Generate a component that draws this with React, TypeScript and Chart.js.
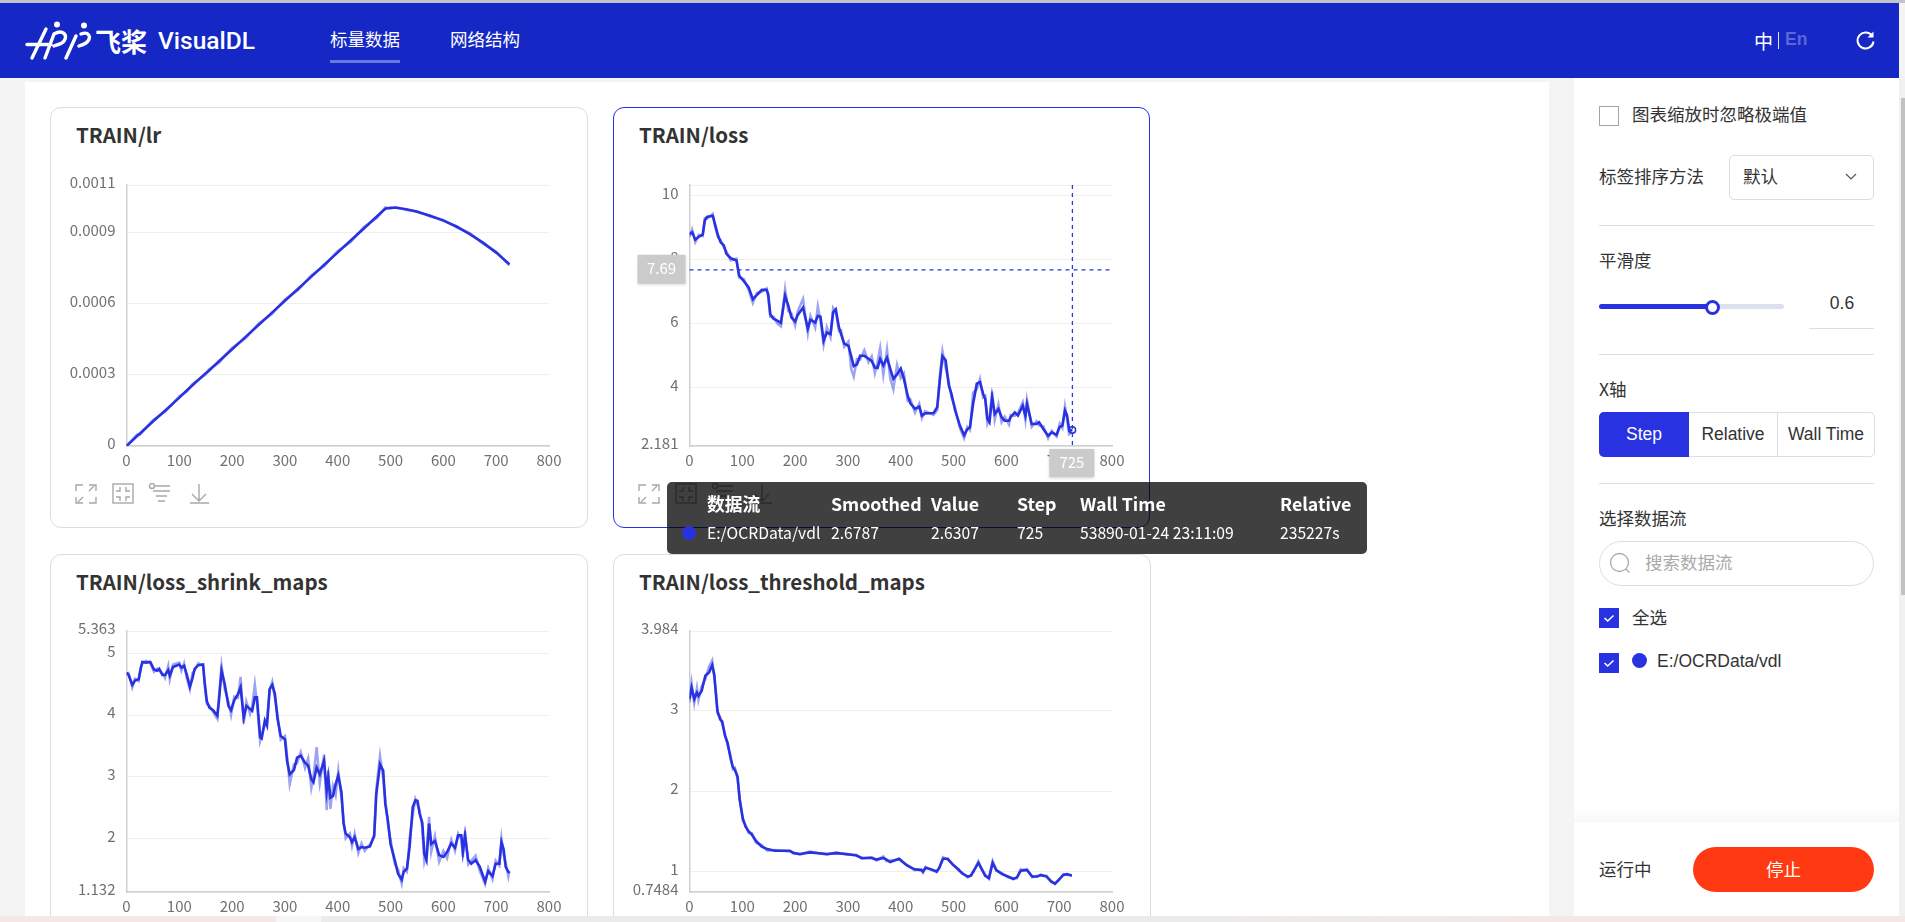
import { useEffect, useRef } from 'react'
import { Chart, registerables } from 'chart.js'
import type { CSSProperties, ReactNode } from 'react'

Chart.register(...registerables)

const CJK = '"Noto Sans CJK SC", sans-serif'
const ARIAL = '"Liberation Sans", "Noto Sans CJK SC", sans-serif'
const BLUE = '#2932e1'

const xTicks = [0, 100, 200, 300, 400, 500, 600, 700, 800]

// TRAIN/lr
const lrSteps = [
  0, 20, 25, 50, 75, 100, 115, 125, 150, 155,
  175, 200, 225, 250, 275, 300, 325, 350, 375, 400,
  425, 450, 475, 490, 500, 510, 530, 550, 575, 600,
  625, 650, 675, 700, 725,
]
const lrSmoothed = [
  0, 0.000042, 0.000052, 0.000103, 0.000153, 0.000204, 0.000236, 0.000256, 0.000307, 0.000315,
  0.000357, 0.000408, 0.000459, 0.00051, 0.000561, 0.000612, 0.000663, 0.000714, 0.000765, 0.000816,
  0.000867, 0.000918, 0.000969, 0.001, 0.001004, 0.001004, 0.000998, 0.000987, 0.00097, 0.00095,
  0.000925, 0.000893, 0.000857, 0.000815, 0.000766,
]
const lrRaw = [
  0, 0.000048, 0.000047, 0.000109, 0.000148, 0.00021, 0.00023, 0.000262, 0.000301, 0.000321,
  0.000351, 0.000414, 0.000453, 0.000516, 0.000555, 0.000618, 0.000657, 0.00072, 0.000759, 0.000822,
  0.000861, 0.000924, 0.000963, 0.001006, 0.001, 0.001007, 0.000995, 0.00099, 0.000967, 0.000953,
  0.000921, 0.000897, 0.000853, 0.000819, 0.000761,
]
const lrTicks = [0, 0.0003, 0.0006, 0.0009, 0.0011]

// TRAIN/loss
const lossSteps = [
  0, 5, 11, 18, 25, 29, 33, 44, 48, 54,
  59, 65, 70, 78, 89, 94, 103, 112, 120, 128,
  137, 146, 149, 153, 159, 167, 173, 181, 187, 193,
  200, 205, 215, 224, 229, 238, 243, 248, 254, 260,
  267, 272, 277, 283, 287, 293, 301, 306, 311, 317,
  323, 331, 339, 345, 351, 356, 361, 367, 374, 380,
  386, 393, 400, 406, 413, 418, 427, 435, 440, 446,
  462, 469, 474, 479, 485, 491, 496, 503, 512, 520,
  526, 531, 537, 544, 550, 556, 560, 564, 568, 573,
  578, 585, 591, 597, 605, 608, 616, 622, 631, 636,
  639, 648, 657, 662, 670, 679, 686, 695, 701, 706,
  711, 715, 719, 725,
]
const lossSmoothed = [
  8.8, 8.86, 8.63, 8.73, 8.79, 9.24, 9.34, 9.38, 9.13, 8.76,
  8.55, 8.45, 8.19, 8.05, 7.98, 7.51, 7.33, 7.14, 6.77, 6.91,
  7.06, 7.06, 6.93, 6.3, 6.16, 6.09, 6.03, 6.88, 6.57, 6.2,
  6.07, 6.28, 6.51, 5.85, 6.13, 6.04, 6.25, 6.22, 5.47, 5.73,
  5.68, 6.36, 6.45, 5.89, 5.68, 5.38, 5.31, 5.0, 4.68, 4.73,
  5.0, 5.0, 4.91, 4.84, 4.63, 4.62, 4.9, 4.7, 4.94, 4.6,
  4.28, 4.42, 4.6, 4.28, 3.76, 3.52, 3.34, 3.41, 3.13, 3.2,
  3.21, 3.39, 4.23, 4.99, 4.86, 4.07, 3.81, 3.29, 2.82, 2.52,
  2.71, 2.76, 3.5, 4.13, 4.18, 3.81, 3.65, 3.03, 2.92, 3.71,
  3.18, 3.34, 3.08, 2.97, 2.97, 3.08, 3.23, 3.13, 3.44, 3.13,
  3.5, 2.87, 2.87, 2.92, 2.71, 2.5, 2.61, 2.53, 2.78, 2.82,
  3.29, 3.13, 2.66, 2.68,
]
const lossRaw = [
  8.72, 8.95, 8.55, 8.78, 8.74, 9.3, 9.28, 9.44, 9.07, 8.7,
  8.62, 8.38, 8.26, 7.98, 8.04, 7.44, 7.4, 7.06, 6.65, 6.97,
  7.0, 7.11, 6.84, 6.22, 6.22, 6.0, 5.92, 7.08, 6.4, 6.33,
  5.95, 6.4, 6.78, 5.7, 6.25, 5.88, 6.55, 6.1, 5.35, 5.9,
  5.58, 6.5, 6.38, 5.78, 5.8, 5.28, 5.45, 4.6, 4.35, 4.9,
  4.88, 5.18, 4.8, 4.98, 4.45, 4.8, 5.25, 4.4, 5.2, 4.3,
  3.95, 4.72, 4.3, 4.45, 3.6, 3.65, 3.22, 3.5, 3.05, 3.27,
  3.15, 3.3, 4.4, 5.15, 4.62, 4.2, 3.7, 3.38, 2.74, 2.42,
  2.78, 2.68, 3.85, 3.95, 4.28, 3.7, 3.75, 2.88, 3.05, 3.88,
  3.0, 3.48, 2.92, 3.1, 2.85, 3.15, 3.12, 3.22, 3.55, 3.0,
  3.62, 2.78, 2.96, 2.82, 2.8, 2.42, 2.66, 2.48, 2.88, 2.74,
  3.42, 3.0, 2.55, 2.63,
]
const lossTicks = [2.181, 4, 6, 8, 10, 10.34]
const lossHiddenTicks = [10.34]

// TRAIN/loss_shrink_maps
const shrinkSteps = [
  0, 4, 11, 16, 23, 27, 30, 37, 45, 52,
  58, 62, 68, 73, 79, 82, 88, 100, 104, 109,
  114, 120, 125, 129, 136, 145, 148, 152, 157, 164,
  172, 175, 180, 186, 193, 198, 204, 211, 216, 222,
  227, 234, 238, 243, 247, 253, 256, 262, 266, 271,
  276, 281, 286, 292, 300, 304, 309, 317, 323, 330,
  338, 344, 350, 354, 360, 366, 374, 379, 382, 386,
  391, 396, 401, 407, 411, 415, 423, 427, 432, 439,
  445, 451, 461, 469, 473, 480, 486, 490, 495, 500,
  508, 514, 521, 525, 531, 536, 542, 547, 551, 555,
  560, 564, 568, 573, 577, 584, 592, 600, 607, 615,
  622, 628, 634, 637, 641, 647, 653, 661, 669, 679,
  685, 693, 699, 706, 710, 714, 718, 723, 725,
]
const shrinkSmoothed = [
  4.69, 4.65, 4.49, 4.56, 4.58, 4.75, 4.86, 4.85, 4.86, 4.74,
  4.72, 4.75, 4.65, 4.65, 4.73, 4.64, 4.78, 4.82, 4.77, 4.8,
  4.66, 4.46, 4.6, 4.75, 4.81, 4.82, 4.53, 4.23, 4.12, 4.08,
  3.99, 4.23, 4.72, 4.5, 4.15, 4.08, 4.24, 4.34, 4.45, 3.96,
  4.15, 4.1, 4.07, 4.29, 4.29, 3.64, 3.62, 3.91, 3.83, 4.42,
  4.49, 4.34, 3.94, 3.66, 3.61, 3.26, 3.04, 3.11, 3.31, 3.34,
  3.23, 3.18, 2.96, 2.91, 3.15, 3.04, 3.26, 2.77, 2.99, 2.66,
  2.69, 2.88, 3.02, 2.75, 2.24, 2.08, 2.02, 1.94, 2.02, 1.83,
  1.86, 1.85, 1.87, 2.05, 2.72, 3.2, 3.1, 2.56, 2.29, 1.91,
  1.65, 1.43, 1.33, 1.46, 1.51, 1.86, 2.51, 2.62, 2.61, 2.4,
  2.26, 1.75, 1.65, 2.24, 1.91, 1.96, 1.73, 1.7, 1.78, 1.92,
  1.85, 2.05, 2.05, 1.78, 2.05, 1.65, 1.59, 1.65, 1.54, 1.3,
  1.47, 1.39, 1.59, 1.59, 1.94, 1.83, 1.54, 1.46, 1.44,
]
const shrinkRaw = [
  4.66, 4.68, 4.45, 4.59, 4.55, 4.78, 4.84, 4.88, 4.84, 4.7,
  4.75, 4.72, 4.68, 4.6, 4.8, 4.58, 4.82, 4.85, 4.72, 4.84,
  4.6, 4.42, 4.68, 4.72, 4.84, 4.8, 4.5, 4.18, 4.15, 4.05,
  3.94, 4.3, 4.8, 4.42, 4.22, 4.0, 4.3, 4.28, 4.62, 3.86,
  4.22, 4.02, 4.14, 4.5, 4.2, 3.58, 3.68, 3.84, 3.9, 4.4,
  4.54, 4.28, 4.0, 3.6, 3.66, 3.35, 2.88, 3.2, 3.22, 3.4,
  3.14, 3.3, 2.82, 3.0, 3.48, 2.9, 3.36, 2.46, 3.1, 2.48,
  2.85, 2.7, 3.1, 2.65, 2.32, 2.0, 2.08, 1.88, 2.08, 1.76,
  1.92, 1.8, 1.9, 2.02, 2.8, 3.34, 2.98, 2.64, 2.22, 1.98,
  1.58, 1.5, 1.27, 1.52, 1.46, 2.0, 2.38, 2.64, 2.55, 2.46,
  2.18, 1.62, 1.75, 2.35, 1.78, 2.04, 1.62, 1.8, 1.68, 1.98,
  1.8, 2.08, 1.99, 1.7, 2.12, 1.58, 1.64, 1.72, 1.47, 1.26,
  1.52, 1.34, 1.64, 1.56, 2.0, 1.74, 1.6, 1.38, 1.47,
]
const shrinkTicks = [1.132, 2, 3, 4, 5, 5.363]

// TRAIN/loss_threshold_maps
const thresholdSteps = [
  0, 4, 9, 14, 17, 23, 30, 37, 43, 47,
  50, 53, 58, 62, 67, 72, 78, 82, 86, 91,
  95, 101, 106, 112, 118, 126, 137, 147, 162, 190,
  197, 209, 228, 260, 278, 297, 316, 326, 345, 354,
  367, 373, 380, 397, 411, 426, 439, 442, 447, 462,
  468, 473, 480, 489, 498, 509, 516, 527, 533, 538,
  547, 552, 560, 567, 574, 581, 592, 603, 613, 620,
  627, 632, 639, 649, 659, 665, 676, 685, 692, 699,
  708, 715, 724,
]
const thresholdSmoothed = [
  3.14, 3.28, 3.14, 3.22, 3.18, 3.24, 3.43, 3.47, 3.56, 3.44,
  3.2, 2.99, 2.89, 2.86, 2.69, 2.6, 2.4, 2.3, 2.26, 2.18,
  1.89, 1.66, 1.56, 1.5, 1.46, 1.38, 1.31, 1.28, 1.26, 1.26,
  1.23, 1.22, 1.24, 1.22, 1.23, 1.22, 1.2, 1.17, 1.17, 1.15,
  1.17, 1.15, 1.12, 1.16, 1.08, 1.03, 1.02, 1.0, 1.05, 1.02,
  1.0, 1.05, 1.16, 1.16, 1.09, 1.03, 0.98, 0.94, 0.95, 1.01,
  1.11, 1.05, 0.95, 0.92, 1.11, 1.02, 0.97, 0.94, 0.91, 0.93,
  1.01, 1.02, 1.02, 0.94, 0.94, 0.96, 0.94, 0.88, 0.85, 0.9,
  0.96, 0.97, 0.95,
]
const thresholdRaw = [
  3.1, 3.34, 3.09, 3.28, 3.13, 3.3, 3.39, 3.54, 3.62, 3.4,
  3.24, 2.96, 2.92, 2.83, 2.72, 2.57, 2.43, 2.27, 2.29, 2.15,
  1.92, 1.63, 1.58, 1.48, 1.48, 1.36, 1.33, 1.26, 1.27, 1.25,
  1.24, 1.21, 1.25, 1.21, 1.24, 1.21, 1.21, 1.16, 1.18, 1.14,
  1.19, 1.13, 1.14, 1.15, 1.09, 1.02, 1.03, 0.99, 1.06, 1.01,
  1.01, 1.04, 1.18, 1.15, 1.1, 1.02, 0.99, 0.93, 0.96, 1.0,
  1.13, 1.04, 0.96, 0.91, 1.13, 1.01, 0.98, 0.93, 0.92, 0.92,
  1.03, 1.01, 1.03, 0.93, 0.95, 0.95, 0.95, 0.87, 0.86, 0.89,
  0.97, 0.96, 0.96,
]
const thresholdTicks = [0.7484, 1, 2, 3, 3.984]

// hover state on TRAIN/loss
const pointerStep = 725
const pointerValue = 7.69
const hoverSmoothed = 2.68

const tooltipHead = ['数据流', 'Smoothed', 'Value', 'Step', 'Wall Time', 'Relative']
const tooltipRow = ['E:/OCRData/vdl', '2.6787', '2.6307', '725', '53890-01-24 23:11:09', '235227s']
const tooltipColumns = [707, 831, 931, 1017, 1080, 1280]

// an empty second line with a 5px line height lifts the y labels about 2.5px
const axisFont = { family: CJK, size: 15 }
const yAxisFont = { family: CJK, size: 15, lineHeight: '5px' }

function pointerPlugin(step: number, value: number) {
  return {
    id: 'pointer',
    afterDraw(chart: Chart) {
      const { ctx, chartArea, scales } = chart
      const px = scales.x.getPixelForValue(step)
      const py = scales.y.getPixelForValue(value)
      ctx.save()
      ctx.strokeStyle = BLUE
      ctx.lineWidth = 1.25
      ctx.setLineDash([4, 4])
      ctx.beginPath()
      ctx.moveTo(chartArea.left, py)
      ctx.lineTo(chartArea.right, py)
      ctx.moveTo(px, chartArea.top)
      ctx.lineTo(px, chartArea.bottom)
      ctx.stroke()
      ctx.setLineDash([])
      ctx.font = `15px ${CJK}`
      ctx.textAlign = 'center'
      ctx.textBaseline = 'middle'
      const boxes = [
        { x: chartArea.left - 52, y: py - 15, w: 48, h: 29, text: String(value) },
        { x: px - 23, y: chartArea.bottom + 3, w: 45, h: 28, text: String(step) },
      ]
      boxes.forEach((b) => {
        ctx.shadowColor = 'rgba(0,0,0,0.2)'
        ctx.shadowBlur = 3
        ctx.shadowOffsetY = 1
        ctx.fillStyle = '#cbcbcb'
        ctx.fillRect(b.x, b.y, b.w, b.h)
        ctx.shadowColor = 'transparent'
        ctx.fillStyle = '#fff'
        ctx.fillText(b.text, b.x + b.w / 2, b.y + b.h / 2 - 1)
      })
      ctx.restore()
    },
  }
}

interface ScalarChartProps {
  left: number
  top: number
  plotTop: number
  plotBottom: number
  steps: number[]
  smoothed: number[]
  raw: number[]
  yTicks: number[]
  hiddenTicks?: number[]
  pointer?: boolean
}

function ScalarChart({ left, top, plotTop, plotBottom, steps, smoothed, raw, yTicks, hiddenTicks = [], pointer }: ScalarChartProps) {
  const canvasRef = useRef<HTMLCanvasElement>(null)
  const width = 538
  const height = 421

  useEffect(() => {
    const canvas = canvasRef.current
    if (!canvas) return
    const datasets: any[] = [
      {
        data: steps.map((x, i) => ({ x, y: raw[i] })),
        borderColor: 'rgba(41,50,225,0.45)',
        borderWidth: 2.5,
        pointRadius: 0,
      },
      {
        data: steps.map((x, i) => ({ x, y: smoothed[i] })),
        borderColor: BLUE,
        borderWidth: 2.6,
        pointRadius: 0,
      },
    ]
    if (pointer) {
      datasets.push({
        data: [{ x: pointerStep, y: hoverSmoothed }],
        showLine: false,
        pointRadius: 3.2,
        pointBackgroundColor: '#fff',
        pointBorderColor: BLUE,
        pointBorderWidth: 1.5,
      })
    }
    const chart = new Chart(canvas, {
      type: 'line',
      data: { datasets },
      options: {
        responsive: false,
        animation: false,
        events: [],
        layout: { padding: { left: 0, top: plotTop - top, right: 39, bottom: 0 } },
        plugins: { legend: { display: false }, tooltip: { enabled: false } },
        scales: {
          x: {
            type: 'linear',
            min: 0,
            max: 800,
            afterBuildTicks: (s: any) => { s.ticks = xTicks.map((value) => ({ value })) },
            afterFit: (s: any) => { s.height = top + height - plotBottom },
            grid: { display: false, drawTicks: false },
            border: { color: '#cfcfcf', width: 1.5 },
            ticks: { color: '#707070', font: axisFont, padding: 5, maxRotation: 0, autoSkip: false, callback: (v: any) => String(v) },
          },
          y: {
            type: 'linear',
            min: yTicks[0],
            max: yTicks[yTicks.length - 1],
            afterBuildTicks: (s: any) => { s.ticks = yTicks.map((value) => ({ value })) },
            afterFit: (s: any) => { s.width = 76.5 },
            grid: { color: '#eeeeee', drawTicks: false },
            border: { color: '#cfcfcf', width: 1.5 },
            ticks: {
              color: '#707070',
              font: yAxisFont,
              padding: 11,
              autoSkip: false,
              callback: (v: any) => (hiddenTicks.includes(v) ? '' : [String(v), '']),
            },
          },
        },
      },
      plugins: pointer ? [pointerPlugin(pointerStep, pointerValue)] : [],
    } as any)
    return () => chart.destroy()
  }, [])

  return <canvas ref={canvasRef} width={width} height={height} style={{ position: 'absolute', left, top, width, height }} />
}

function Label({ x, y, size = 17.5, color = '#333', font = CJK, weight = 400, center, children }: {
  x: number; y: number; size?: number; color?: string; font?: string; weight?: number; center?: boolean; children: ReactNode
}) {
  const style: CSSProperties = {
    position: 'absolute',
    left: x,
    top: y,
    transform: center ? 'translate(-50%,-50%)' : 'translateY(-50%)',
    fontFamily: font,
    fontSize: size,
    fontWeight: weight,
    color,
    whiteSpace: 'nowrap',
    lineHeight: 1,
  }
  return <div style={style}>{children}</div>
}

function Box({ x, y, w, h, style, children }: { x: number; y: number; w: number; h: number; style?: CSSProperties; children?: ReactNode }) {
  return <div style={{ position: 'absolute', left: x, top: y, width: w, height: h, boxSizing: 'border-box', ...style }}>{children}</div>
}

function CardIcons({ x, y }: { x: number; y: number }) {
  const stroke = { fill: 'none', stroke: '#a8a8a8', strokeWidth: 1.4 }
  return (
    <svg style={{ position: 'absolute', left: x, top: y }} width={136} height={22} viewBox="0 0 136 22">
      <g {...stroke}>
        <path d="M1 8V2h7M21 14v6h-7M1 14v6h7M21 8V2h-7M19 3l-5 5M3 19l5-5" />
        <rect x="38" y="1" width="20" height="19" />
        <path d="M41 8h4V4M55 8h-4V4M41 14h4v4M55 14h-4v4" />
        <circle cx="77" cy="3" r="2.5" />
        <path d="M80 3h15M78 8h17M81 13h11M83 18h7" />
        <path d="M124 1v16M117 11l7 7 7-7M115 20h19" />
      </g>
    </svg>
  )
}

function Card({ x, y, h, title, active }: { x: number; y: number; h: number; title: string; active?: boolean }) {
  return (
    <>
      <Box x={x} y={y} w={active ? 537 : 538} h={h} style={{ border: `1px solid ${active ? BLUE : '#dddddd'}`, borderRadius: 11, background: '#fff' }} />
      <Label x={x + 26} y={y + 27} size={20.5} weight={700} color="#333">{title}</Label>
    </>
  )
}

function CheckBox({ x, y, checked }: { x: number; y: number; checked?: boolean }) {
  return (
    <Box x={x} y={y} w={20} h={20} style={{ background: checked ? BLUE : '#fff', border: checked ? 'none' : '1px solid #a5a5a5' }}>
      {checked && (
        <svg width={20} height={20} viewBox="0 0 20 20">
          <path d="M5.5 10l3.2 3 5.8-5.5" fill="none" stroke="#fff" strokeWidth={1.6} />
        </svg>
      )}
    </Box>
  )
}

function Header() {
  return (
    <>
      <Box x={0} y={0} w={1905} h={3} style={{ background: '#c4c4c8' }} />
      <Box x={0} y={3} w={1899} h={75} style={{ background: '#1527c5' }} />
      <svg style={{ position: 'absolute', left: 24, top: 20 }} width={68} height={42} viewBox="0 0 68 42">
        <g fill="none" stroke="#fff" strokeWidth={3.4} strokeLinecap="round">
          <path d="M3 24.5h24M22 9L8 38M30 14c9-5 14 1 10 7-2 3-7 4-10 5M30 14L21 38" />
          <path d="M57 14c8-3 10 3 7 7-2 3-6 4-9 5M52 16L42 38" />
        </g>
        <circle cx="33" cy="4.5" r="3" fill="#fff" />
        <circle cx="60" cy="5.5" r="3" fill="#fff" />
      </svg>
      <Label x={95} y={41} size={26} weight={700} color="#fff">飞桨</Label>
      <Label x={158} y={41} size={24.5} weight={500} color="#fff" font='Roboto, sans-serif'>VisualDL</Label>
      <Label x={330} y={39} color="#fff">标量数据</Label>
      <Box x={330} y={60} w={70} h={2.5} style={{ background: '#6a78dc' }} />
      <Label x={450} y={39} color="#fff">网络结构</Label>
      <Label x={1754} y={39.5} size={19} color="#fff">中</Label>
      <Box x={1778} y={32} w={1} h={17} style={{ background: '#dfe2f7' }} />
      <Label x={1785} y={40} color="#5a68d8" font={ARIAL} weight={700}>En</Label>
      <svg style={{ position: 'absolute', left: 1855, top: 30 }} width={21} height={21} viewBox="0 0 21 21">
        <path d="M17.5 6.5A8 8 0 1 0 18.5 11.5" fill="none" stroke="#fff" strokeWidth={2} />
        <path d="M18.5 1.5v6h-6" fill="#fff" />
      </svg>
    </>
  )
}

function Sidebar() {
  const line = '#dedede'
  return (
    <>
      <Box x={1574} y={78} w={325} h={838} style={{ background: '#fff' }} />
      <CheckBox x={1599} y={106} />
      <Label x={1632} y={114}>图表缩放时忽略极端值</Label>
      <Label x={1599} y={176}>标签排序方法</Label>
      <Box x={1729} y={155} w={145} h={45} style={{ border: `1px solid ${line}`, borderRadius: 5 }} />
      <Label x={1743} y={176}>默认</Label>
      <svg style={{ position: 'absolute', left: 1845, top: 172 }} width={12} height={10} viewBox="0 0 12 10">
        <path d="M1 2l5 5 5-5" fill="none" stroke="#555" strokeWidth={1.2} />
      </svg>
      <Box x={1599} y={225} w={275} h={1} style={{ background: line }} />
      <Label x={1599} y={260}>平滑度</Label>
      <Box x={1599} y={304} w={185} h={5} style={{ background: '#dde1ee', borderRadius: 3 }} />
      <Box x={1599} y={304} w={113} h={5} style={{ background: BLUE, borderRadius: 3 }} />
      <Box x={1704.5} y={299.5} w={15} h={15} style={{ background: '#fff', border: `3px solid ${BLUE}`, borderRadius: '50%' }} />
      <Label x={1842} y={304} font={ARIAL} center>0.6</Label>
      <Box x={1809} y={328} w={65} h={1} style={{ background: line }} />
      <Box x={1599} y={354} w={275} h={1} style={{ background: line }} />
      <Label x={1599} y={389}>X轴</Label>
      <Box x={1599} y={412} w={276} h={45} style={{ border: `1px solid ${line}`, borderRadius: 5 }} />
      <Box x={1599} y={412} w={90} h={45} style={{ background: BLUE, borderRadius: '5px 0 0 5px' }} />
      <Box x={1777} y={412} w={1} h={45} style={{ background: line }} />
      <Label x={1644} y={435} font={ARIAL} color="#fff" center>Step</Label>
      <Label x={1733} y={435} font={ARIAL} center>Relative</Label>
      <Label x={1826} y={435} font={ARIAL} center>Wall Time</Label>
      <Box x={1599} y={483} w={275} h={1} style={{ background: line }} />
      <Label x={1599} y={518}>选择数据流</Label>
      <Box x={1599} y={541} w={275} h={45} style={{ border: `1px solid ${line}`, borderRadius: 23 }} />
      <svg style={{ position: 'absolute', left: 1609, top: 552 }} width={23} height={23} viewBox="0 0 23 23">
        <circle cx="10.5" cy="10.5" r="9" fill="none" stroke="#aaa" strokeWidth={1.3} />
        <path d="M17 17l3.5 3.5" stroke="#aaa" strokeWidth={1.3} />
      </svg>
      <Label x={1645} y={562} color="#aaa">搜索数据流</Label>
      <CheckBox x={1599} y={608} checked />
      <Label x={1632} y={617}>全选</Label>
      <CheckBox x={1599} y={653} checked />
      <Box x={1632} y={653} w={15} h={15} style={{ background: BLUE, borderRadius: '50%' }} />
      <Label x={1657} y={662} font={ARIAL} size={17.5}>E:/OCRData/vdl</Label>
      <Box x={1574} y={807} w={325} h={15} style={{ background: 'linear-gradient(#ffffff,#f8f8f8)' }} />
      <Label x={1599} y={869}>运行中</Label>
      <Box x={1693} y={847} w={181} h={45} style={{ background: '#ff3912', borderRadius: 23 }} />
      <Label x={1783.5} y={869} color="#fff" center>停止</Label>
    </>
  )
}

function Tooltip() {
  return (
    <>
      <Box x={667} y={482} w={700} h={72} style={{ background: 'rgba(0,0,0,0.75)', borderRadius: 5 }} />
      {tooltipHead.map((t, i) => (
        <Label key={t} x={tooltipColumns[i]} y={503.5} size={17.8} weight={700} color="#fff">{t}</Label>
      ))}
      {tooltipRow.map((t, i) => (
        <Label key={t} x={tooltipColumns[i]} y={533} size={15.7} color="#fff">{t}</Label>
      ))}
      <Box x={682} y={526} w={14} h={14} style={{ background: BLUE, borderRadius: '50%' }} />
    </>
  )
}

export default function App() {
  useEffect(() => {
    document.body.style.margin = '0'
    document.body.style.overflow = 'hidden'
  }, [])

  return (
    <div style={{ position: 'relative', width: 1905, height: 922, overflow: 'hidden', background: '#f4f4f4' }}>
      <Box x={25} y={82} w={1524} h={840} style={{ background: '#fff' }} />
      <Box x={1899} y={78} w={6} h={844} style={{ background: '#f1f1f1' }} />
      <Box x={1901} y={98} w={4} h={497} style={{ background: '#c1c1c1' }} />

      <Card x={50} y={107} h={421} title="TRAIN/lr" />
      <ScalarChart left={50} top={107} plotTop={185} plotBottom={446} steps={lrSteps} smoothed={lrSmoothed} raw={lrRaw} yTicks={lrTicks} />
      <CardIcons x={75} y={483} />

      <Card x={613} y={107} h={421} title="TRAIN/loss" active />
      <ScalarChart left={613} top={107} plotTop={185} plotBottom={446} steps={lossSteps} smoothed={lossSmoothed} raw={lossRaw} yTicks={lossTicks} hiddenTicks={lossHiddenTicks} pointer />
      <CardIcons x={638} y={483} />

      <Card x={50} y={554} h={421} title="TRAIN/loss_shrink_maps" />
      <ScalarChart left={50} top={554} plotTop={631} plotBottom={892} steps={shrinkSteps} smoothed={shrinkSmoothed} raw={shrinkRaw} yTicks={shrinkTicks} />

      <Card x={613} y={554} h={421} title="TRAIN/loss_threshold_maps" />
      <ScalarChart left={613} top={554} plotTop={631} plotBottom={892} steps={thresholdSteps} smoothed={thresholdSmoothed} raw={thresholdRaw} yTicks={thresholdTicks} />

      <Tooltip />
      <Header />
      <Sidebar />

      <Box x={0} y={916} w={1905} h={6} style={{ background: 'linear-gradient(90deg,#f4e9e7 0,#f4e9e7 276px,#f6f6f6 276px,#f6f6f6 321px,#ebebeb 321px,#ebebeb 1180px,#f3e9e7 1540px,#f3e9e7 1905px)' }} />
    </div>
  )
}
